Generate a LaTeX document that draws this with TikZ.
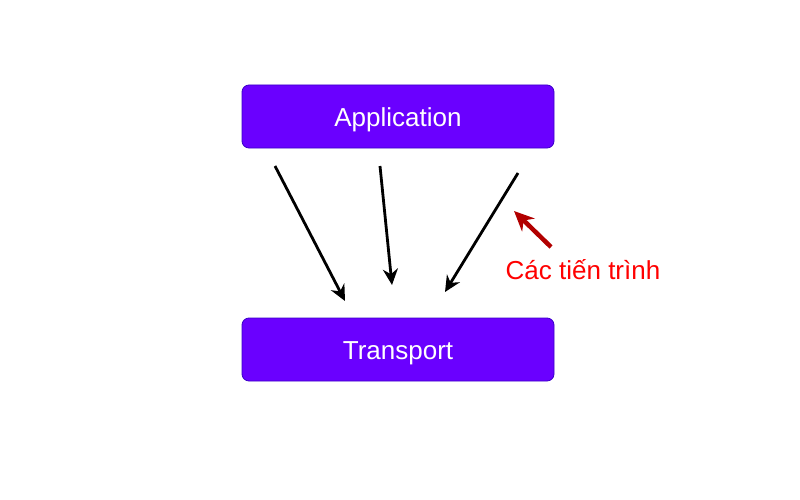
\documentclass[tikz,border=0pt]{standalone}
\usepackage{fontspec}
\setmainfont{Liberation Sans}
\usetikzlibrary{arrows.meta}

\definecolor{layerfill}{HTML}{6A00FF}
\definecolor{layerline}{HTML}{3A00C8}
\definecolor{notered}{HTML}{B20000}

\begin{document}
\begin{tikzpicture}[
    x=1pt, y=-1pt,
    >=Stealth,              % arrow tip style
    layer/.style={draw=layerline, fill=layerfill, rounded corners=7pt,
        minimum width=312pt, minimum height=63pt, text=white,
        text height=24pt, text depth=4pt,
        font=\fontsize{26}{31}\selectfont, line width=0.8pt},
    flow/.style={->, line width=2.8pt, arrows={-Stealth[length=16pt, width=15pt]}},
    hint/.style={line width=4.5pt, notered, arrows={-Stealth[length=20pt, width=18pt]}}]
    \useasboundingbox (0,0) rectangle (800,500);

    % Layers
    \node[layer] (app) at (398,116.5) {Application};
    \node[layer] (trans) at (398,349.5) {Transport};

    % Process arrows
    \coordinate (p1s) at (275,166);
    \coordinate (p1e) at (345,301);
    \coordinate (p2s) at (380,166);
    \coordinate (p2e) at (392,285);
    \coordinate (p3s) at (518,173);
    \coordinate (p3e) at (445,292);
    \draw[flow] (p1s) -- (p1e);
    \draw[flow] (p2s) -- (p2e);
    \draw[flow] (p3s) -- (p3e);

    % Note
    \node[text=red, font=\fontsize{26}{31}\selectfont] (note) at (583,270) {Các tiến trình};
    \coordinate (hs) at (551,247);
    \coordinate (he) at (514,211);
    \draw[hint] (hs) -- (he);
\end{tikzpicture}
\end{document}
